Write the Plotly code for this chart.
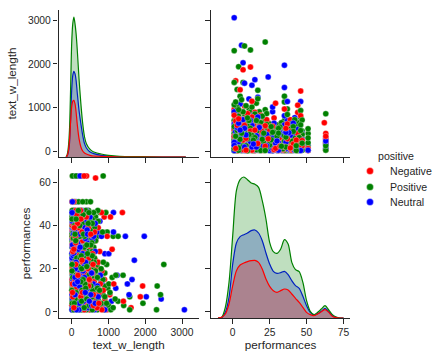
import plotly.graph_objects as go

W, H = 443, 360
ink = "#262626"
colors = {"Negative": "red", "Positive": "green", "Neutral": "blue"}
fills = {"Negative": "rgba(255,0,0,0.25)", "Positive": "rgba(0,128,0,0.25)", "Neutral": "rgba(0,0,255,0.25)"}

# ---- scatter values: performance level -> text lengths
pos_levels = [1,2,3,4,5,6,7,8,9,10,11,12,13,14,15,16,17,18,19,20,21,22,23,24,25,26,27,28,29,30,31,32,33,34,35,36,37,38,39,40,41,42,43,44,45,46,47,51,63]
pos_lengths = [[5,60,140,260,400,560,700,880,1063,1577,2306],[30,180,340,520,760,1126],[10,110,300,470,640,1000,1414],[70,230,420,800,950,1937],
 [20,160,350,600,1260],[90,280,510,720,1180],[15,200,400,900,1577],[120,310,660,850,2414],[40,240,480,1040],[5,170,390,570,760],
 [100,300,700,980],[25,210,440,900,2324],[130,360,620,1010],[10,250,500,790],[80,190,420,850],[30,310,580,1100],[120,260,740,1200,1396],
 [15,350,510,900],[70,220,650],[40,170,430,800],[110,300,560],[10,240,690,950,2504],[90,400,860],[30,180,520],[140,330,620],[15,260,480],
 [70,200,430],[35,310,560],[120,390],[10,240,600],[80,340,520],[25,180,440],[110,290,650],[50,370,560],[15,220,700,1126,1261],[90,440],
 [40,300,838,964],[130,500],[10,260,620],[80,380],[20,190,560],[130,340,720],[10,260,470],[70,410,650],[25,200,530],[120,340,600,766,928],
 [15,180,300,460,710],[15,90,190,300,400,510],[20,120,200,856]]
# dense block, second pass of readings for levels 1 to 47
pos_dense = [[30,210,330],[110,440,600],[60,200,380],[15,150,520],[90,270,470],[10,180,410],[70,310,560],[30,210,440],[120,340,610],[60,280,470],
 [20,190,380],[90,330,520],[10,230,480],[130,370,600],[50,310,530],[180,400,700],[20,90,470],[120,250,620],[10,340,480],[100,270,560],
 [20,190,410],[130,330,520],[50,220,610],[110,300,430],[20,230,480],[90,370,560],[10,300,540],[120,210,430],[60,280,500],[150,340,460],
 [20,230,410],[90,310,550],[10,200,480],[120,260,430],[70,350,520],[10,180,320],[100,230,480],[20,300,420],[70,180,470],[10,220,520],
 [100,330,450],[30,230,500],[120,370,560],[10,230,330],[90,310,430],[20,210,470],[70,240,380]]

neu_levels = [1,2,3,4,5,6,7,8,9,10,11,12,13,14,15,16,17,18,19,20,21,22,23,24,25,26,27,28,29,30,31,32,33,34,35,36,37,38,39,40,41,42,43,44,45,46,47,51,63]
neu_lengths = [[10,200,330,620,900,3063],[80,280,450,780],[20,170,540,700],[120,360,640,900],[30,250,480,1081],[150,420,2432],[60,300,720,2027],
 [10,200,520,760,1559],[110,370,650],[40,270,560],[190,440,1198],[15,320,700],[90,240,590,1513],[160,410,820],[30,510,1640],[210,350,660],
 [70,460,780,1234],[140,300,540],[20,380],[100,250,620],[170,430,200],[50,310],[120,480],[20,230,1703],[90,360],[40,540,170],[5,300,900,1009],
 [150,640],[70,420],[20,230],[100,480],[180,350],[40,560],[120,290],[20,600,810,1459,1973],[260,430],[80,700,1135],[170,520],[30,360],[110,250],
 [20,640],[190,766,420],[60,300],[120,500],[10,540,360],[220,1135],[70,400],[20,130],[63,150,230,300]]
neu_dense = [[130,520],[20,350],[300,450],[60,210],[150,390],[20,280],[130,470],[320,90],[20,240],[150,430],[70,320],[210,500],[30,410],[120,280],
 [10,340],[90,430],[230,30],[70,400],[190,310],[30,430],[110,340],[220,470],[60,380],[140,290],[10,250],[110,420],[60,210],[30,340],[180,490],[90,310],
 [20,270],[130,420],[80,230],[10,370],[130,310],[50,200],[10,290],[90,420],[200,20],[70,300],[130,380],[20,240],[180,430],[40,290],[120,410],[10,330],[190,260]]

neg_levels = [1,2,3,4,5,6,7,8,9,10,11,12,13,14,15,16,17,18,19,20,21,22,23,24,25,26,27,28,29,30,31,32,33,34,35,36,37,38,39,40,41,42,43,44,45,46,47,51,62,63]
neg_lengths = [[40,240,480,820,960],[120,380,690,1613],[5,260,590,860],[170,520,740],[60,310,1405],[210,650,900],[30,430,1865],[150,590,1036],[350,750,20],
 [90,540,860],[250,670],[40,460,1928],[190,780,1144],[330,610],[10,480,890],[140,700],[380,250],[60,560],[210,820],[20,450],[320,690],[130,580],
 [40,720,300],[220,650],[110,470],[10,390],[300,570],[160,760],[1099,60],[250,500],[20,420],[340,200],[120,650],[460,30],[100,330,964],[180,520],
 [30,390,620],[250,60],[721,450,100],[300,20],[160,540],[360,80],[250,640],[100,400,883,1054],[30,310],[220,1378,810],[120,430],[10,60],[649],[30,180,270,340,405]]
neg_dense = [[190,340],[60,270],[150,430],[20,310],[180,470],[60,350],[130,250],[50,410],[180,290],[10,340],[130,400],[70,270],[20,360],[150,480],
 [90,260],[40,420],[170,300],[20,350],[130,460],[80,300],[20,190],[370,110],[150,440],[60,280],[20,330],[190,500],[80,230],[30,400],[150,320],[60,420],
 [10,190],[110,360],[40,300],[200,420],[10,250],[80,330],[170,280],[20,350],[200,70],[110,410],[30,270],[170,460],[20,120],[250,20],[130,420],[60,340],[240,30]]

# ---- density curves (heights in arbitrary density units)
perf_grid = [-10,-7.5,-5,-2.5,0,2.5,5,7.5,10,12.5,15,17.5,20,22.5,25,27.5,30,32.5,35,37.5,40,42.5,45,47.5,50,52.5,55,57.5,60,62.5,65,67.5,70,72.5,75]
perf_density_pos = [0,2,32,107,247,382,415,423,415,405,401,392,352,297,227,199,194,207,235,222,167,145,139,107,52,20,10,17,27,37,24,10,3,0,0]
perf_density_neu = [0,1,17,62,162,225,244,250,255,262,264,255,232,195,162,140,134,136,140,130,112,97,89,65,37,17,9,13,20,29,19,7,2,0,0]
perf_density_neg = [0,2,12,42,97,142,159,165,169,172,173,167,147,117,95,82,77,82,87,84,72,59,47,32,17,10,7,12,19,25,17,5,1,0,0]

len_grid = [-150,-120,-90,-60,-30,0,30,60,90,120,150,200,250,300,350,400,500,600,800,1000,1300,1900,2500,3100]
len_density_pos = [0,8,30,80,200,340,400,420,400,370,325,235,160,100,60,40,23,15,9,5,2,1,0,0]
len_density_neu = [0,4,15,40,110,200,245,257,250,230,195,140,100,65,40,27,15,10,5,3,1,0,0,0]
len_density_neg = [0,5,18,50,105,150,167,170,160,135,100,55,30,18,12,9,5,3,2,1,0,0,0,0]

x_ticks_len = [0, 1000, 2000, 3000]
y_ticks_perf = [0, 20, 40, 60]
x_ticks_perf = [0, 25, 50, 75]


def flatten(levels, lengths, name):
    return [(l, p, name) for p, row in zip(levels, lengths) for l in row]


pts = (flatten(neg_levels, neg_lengths, "Negative") + flatten(pos_levels, pos_lengths, "Positive")
       + flatten(neu_levels, neu_lengths, "Neutral") + flatten(range(1, 48), neg_dense, "Negative")
       + flatten(range(1, 48), pos_dense, "Positive") + flatten(range(1, 48), neu_dense, "Neutral"))
# rows are drawn mixed together, as in one single collection of points
n = len(pts)
pts = [pts[i] for i in sorted(range(n), key=lambda i: (i * 211) % n)]
xs = [p[0] for p in pts]
ys = [p[1] for p in pts]
cs = [colors[p[2]] for p in pts]

fig = go.Figure()
mk = dict(color=cs, size=6, line=dict(color="rgba(255,255,255,0.8)", width=0.4))
fig.add_trace(go.Scatter(x=xs, y=ys, mode="markers", marker=mk, xaxis="x", yaxis="y3", showlegend=False, hoverinfo="skip"))
fig.add_trace(go.Scatter(x=ys, y=xs, mode="markers", marker=mk, xaxis="x4", yaxis="y2", showlegend=False, hoverinfo="skip"))
# empty traces so the remaining axes are drawn
fig.add_trace(go.Scatter(x=[None], y=[None], xaxis="x3", yaxis="y", showlegend=False, hoverinfo="skip"))
fig.add_trace(go.Scatter(x=[None], y=[None], xaxis="x2", yaxis="y4", showlegend=False, hoverinfo="skip"))

for name, dl, dp in [("Neutral", len_density_neu, perf_density_neu),
                     ("Positive", len_density_pos, perf_density_pos),
                     ("Negative", len_density_neg, perf_density_neg)]:
    line = dict(color=colors[name], width=1.2, shape="spline", smoothing=0.8)
    fig.add_trace(go.Scatter(x=len_grid, y=dl, mode="lines", line=line, fill="tozeroy", fillcolor=fills[name],
                             xaxis="x3", yaxis="y5", showlegend=False, hoverinfo="skip"))
    fig.add_trace(go.Scatter(x=perf_grid, y=dp, mode="lines", line=line, fill="tozeroy", fillcolor=fills[name],
                             xaxis="x2", yaxis="y6", showlegend=False, hoverinfo="skip"))

legend_font = dict(size=10.6, color=ink, family="Liberation Sans")
legend_rows = {"Negative": ("legend", 171), "Positive": ("legend2", 187), "Neutral": ("legend3", 202)}
for name, (lg, _) in legend_rows.items():
    fig.add_trace(go.Scatter(x=[None], y=[None], mode="markers", name=name, legend=lg,
                             marker=dict(color=colors[name], size=7, line=dict(color="white", width=0.4)),
                             xaxis="x", yaxis="y3"))

ax = dict(showgrid=False, zeroline=False, showline=True, linecolor=ink, linewidth=1.2, ticks="outside",
          ticklen=4.5, tickwidth=1, tickcolor=ink, tickfont=dict(size=10.3, color=ink, family="Liberation Sans"),
          title_font=dict(size=11.7, color=ink, family="Liberation Sans"), title_standoff=3, automargin=False)
xr1 = [-358, 3460]
xr2 = [-14.7, 79.4]
d1 = [58.5 / W, 199 / W]
d2 = [211 / W, 350 / W]
top = [1 - 157 / H, 1 - 10 / H]
bot = [1 - 318 / H, 1 - 169 / H]

legends = {}
for name, (lg, ypx) in legend_rows.items():
    legends[lg] = dict(font=legend_font, x=350 / W, xanchor="left", y=1 - ypx / H, yanchor="middle",
                       bgcolor="rgba(0,0,0,0)", itemwidth=30)

fig.update_layout(
    width=W, height=H, margin=dict(l=0, r=0, t=0, b=0), paper_bgcolor="white", plot_bgcolor="white",
    xaxis=dict(ax, domain=d1, range=xr1, tickvals=x_ticks_len, anchor="y3", title_text="text_w_length"),
    xaxis2=dict(ax, domain=d2, range=xr2, tickvals=x_ticks_perf, anchor="y4", title_text="performances"),
    xaxis3=dict(ax, domain=d1, range=xr1, tickvals=x_ticks_len, showticklabels=False, anchor="y"),
    xaxis4=dict(ax, domain=d2, range=xr2, tickvals=x_ticks_perf, showticklabels=False, anchor="y2"),
    yaxis=dict(ax, domain=top, range=[-138, 3241], tickvals=x_ticks_len, anchor="x3", title_text="text_w_length", title_standoff=8),
    yaxis2=dict(ax, domain=top, range=[-138, 3241], tickvals=x_ticks_len, showticklabels=False, anchor="x4"),
    yaxis3=dict(ax, domain=bot, range=[-2.8, 66.2], tickvals=y_ticks_perf, anchor="x", title_text="performances", title_standoff=6),
    yaxis4=dict(ax, domain=bot, range=[-2.8, 66.2], tickvals=y_ticks_perf, showticklabels=False, anchor="x2"),
    yaxis5=dict(domain=top, range=[0, 441], visible=False, anchor="x3", overlaying="y"),
    yaxis6=dict(domain=bot, range=[0, 447], visible=False, anchor="x2", overlaying="y4"),
    annotations=[dict(text="positive", xref="paper", yref="paper", x=396 / W, y=1 - 156 / H, showarrow=False,
                      xanchor="center", yanchor="middle", font=legend_font)],
    **legends,
)
fig.write_html("out.html", post_script="document.body.style.margin='0';", config=dict(displayModeBar=False))
